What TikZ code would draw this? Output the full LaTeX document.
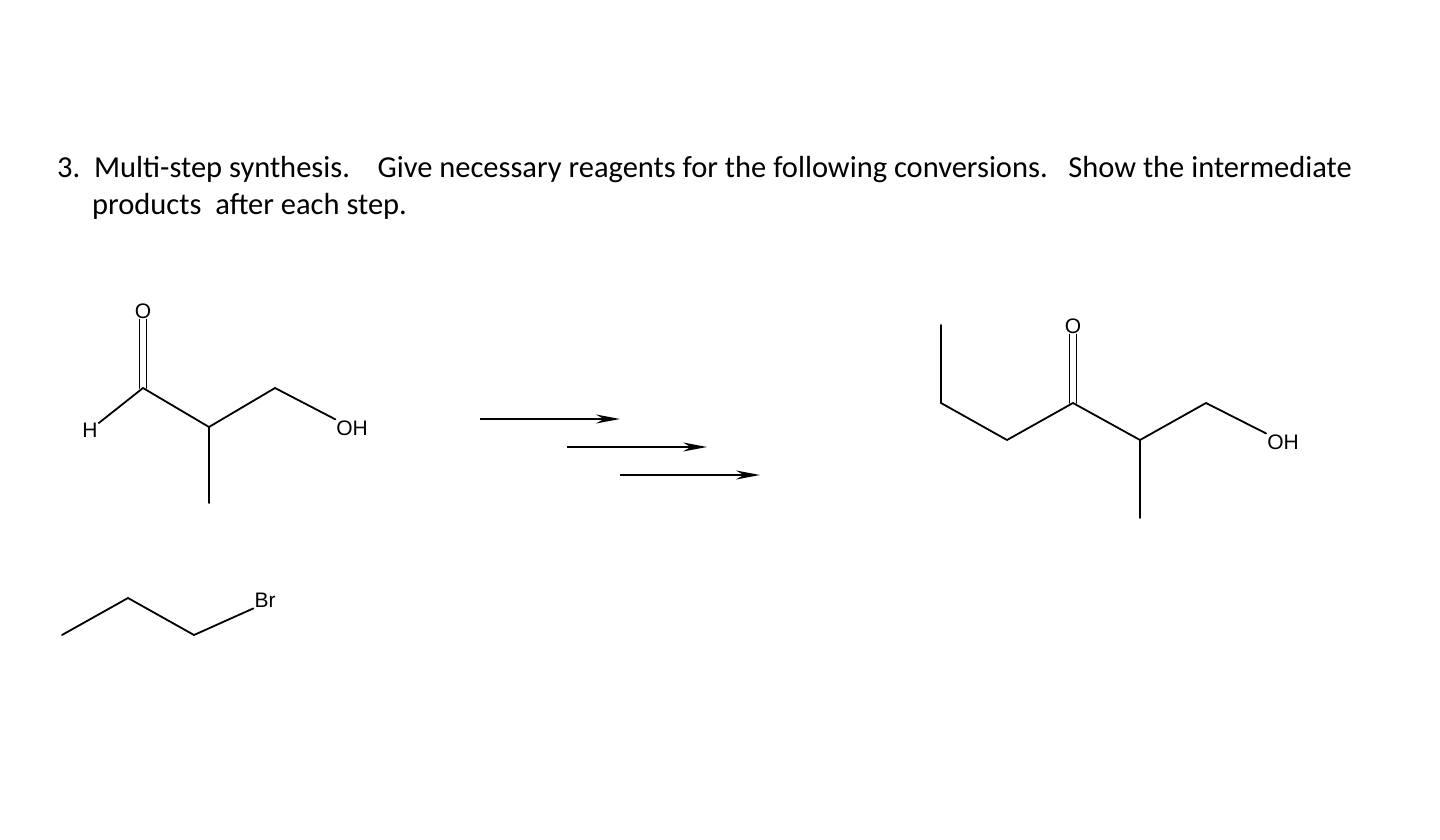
\documentclass[tikz,border=0pt]{standalone}
\usepackage{fontspec}
\setmainfont{Carlito}
\newfontfamily\atomfont{Liberation Sans}
\usetikzlibrary{arrows.meta}
\begin{document}
\begin{tikzpicture}[x=1pt,y=-1pt,
  bond/.style={line width=1.8pt,line cap=round},
  atom/.style={font=\atomfont\fontsize{21}{21}\selectfont,inner sep=1pt},
  rxn/.style={line width=1.6pt,-{Stealth[length=24pt,width=9pt]}}]
\useasboundingbox (0,0) rectangle (1440,840);
\node[anchor=base west,font=\fontsize{30.5}{36}\selectfont,align=left,inner sep=0pt] (title) at (57,177)
 {3.\ \ Multi-step synthesis.\ \ \ \ Give necessary reagents for the following conversions.\ \ \ Show the intermediate};
\node[anchor=base west,font=\fontsize{30.5}{36}\selectfont,inner sep=0pt] (title2) at (92,214) {products\ \ after each step.};
% molecule 1
\node[atom] (H) at (90,430) {H};
\node[atom] (O1) at (143,311) {O};
\node[atom] (OH1) at (352,428) {OH};
\coordinate (a1) at (143,388);
\coordinate (a2) at (209,427);
\coordinate (a3) at (209,503);
\coordinate (a4) at (275,388);
\draw[bond] (H) -- (a1) -- (a2) -- (a3);
\draw[bond] (a2) -- (a4) -- (OH1);
\draw[bond] ([xshift=-3.5]a1) -- ([xshift=-3.5]O1.south);
\draw[bond] ([xshift=3.5]a1) -- ([xshift=3.5]O1.south);
% bromopropane
\node[atom] (Br) at (265,600) {Br};
\coordinate (b1) at (62,635);
\coordinate (b2) at (128,598);
\coordinate (b3) at (194,635);
\draw[bond] (b1) -- (b2) -- (b3) -- (Br.south west);
% arrows
\coordinate (r1s) at (480,419); \coordinate (r1e) at (620,419);
\coordinate (r2s) at (567,447); \coordinate (r2e) at (707,447);
\coordinate (r3s) at (620,475); \coordinate (r3e) at (760,475);
\draw[rxn] (r1s) -- (r1e);
\draw[rxn] (r2s) -- (r2e);
\draw[rxn] (r3s) -- (r3e);
% product
\node[atom] (O2) at (1073,326) {O};
\node[atom] (OH2) at (1283,442) {OH};
\coordinate (p1) at (941,325);
\coordinate (p2) at (941,403);
\coordinate (p3) at (1007,440);
\coordinate (p4) at (1073,403);
\coordinate (p5) at (1140,440);
\coordinate (p6) at (1140,518);
\coordinate (p7) at (1206,403);
\draw[bond] (p1) -- (p2) -- (p3) -- (p4) -- (p5) -- (p6);
\draw[bond] (p5) -- (p7) -- (OH2);
\draw[bond] ([xshift=-3.5]p4) -- ([xshift=-3.5]O2.south);
\draw[bond] ([xshift=3.5]p4) -- ([xshift=3.5]O2.south);
\end{tikzpicture}
\end{document}
